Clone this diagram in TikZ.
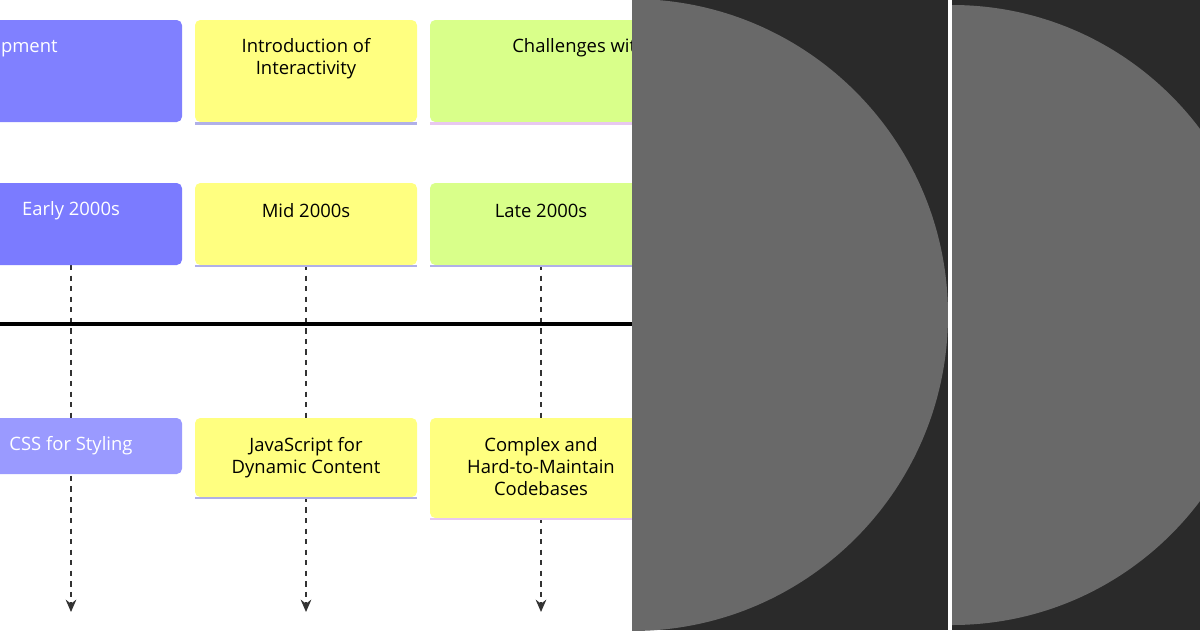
\documentclass[tikz,border=0pt]{standalone}
\usepackage{fontspec}
\setmainfont{Open Sans}
\usetikzlibrary{arrows.meta}
\definecolor{bl}{HTML}{8080FF}
\definecolor{bl2}{HTML}{7B7BFF}
\definecolor{bl3}{HTML}{9A9AFF}
\definecolor{ye}{HTML}{FFFF80}
\definecolor{gr}{HTML}{D9FF8A}
\definecolor{lav}{HTML}{B0B0E8}
\definecolor{pk}{HTML}{E8C8F0}
\definecolor{dk}{HTML}{2A2A2A}
\definecolor{cg}{HTML}{696969}
\tikzset{px/.style={x=0.02cm,y=-0.02cm},
 lab/.style={font=\fontsize{10.5}{12.5}\selectfont,align=center,inner sep=0pt},
 conn/.style={dashed,line width=1.2pt,-{Stealth[length=7pt,width=6pt]},black!80}}
\begin{document}
\begin{tikzpicture}[px]
\useasboundingbox (0,0) rectangle (1200,630);
\fill[white] (0,0) rectangle (632,630);
\begin{scope}
\clip (0,0) rectangle (632,630);
% arrows
\coordinate (a1) at (71,265); \coordinate (b1) at (71,612);
\coordinate (a2) at (306,265); \coordinate (b2) at (306,612);
\coordinate (a3) at (541,265); \coordinate (b3) at (541,612);
\draw[conn] (a1)--(b1); \draw[conn] (a2)--(b2); \draw[conn] (a3)--(b3);
\draw[line width=2.4pt] (0,324)--(632,324);
% row1
\fill[bl,rounded corners=3pt] (-40,20) rectangle (182,122);
\fill[ye,rounded corners=3pt] (195,20) rectangle (417,122);
\draw[lav,line width=1.5pt] (195,123.5)--(417,123.5);
\fill[gr,rounded corners=3pt] (430,20) rectangle (660,122);
\draw[pk,line width=1.5pt] (430,123.5)--(660,123.5);
\node[lab,white,anchor=north east] (t1) at (58,38) {Web Development};
\node[lab,anchor=north] (t2) at (306,38) {Introduction of\\Interactivity};
\node[lab,anchor=north west] (t3) at (512,38) {Challenges with jQuery};
% row2
\fill[bl2,rounded corners=3pt] (-40,183) rectangle (182,265);
\fill[ye,rounded corners=3pt] (195,183) rectangle (417,265);
\draw[lav,line width=1.5pt] (195,266)--(417,266);
\fill[gr,rounded corners=3pt] (430,183) rectangle (660,265);
\draw[lav,line width=1.5pt] (430,266)--(660,266);
\node[lab,white] (m1) at (71,211) {Early 2000s};
\node[lab] (m2) at (306,211) {Mid 2000s};
\node[lab] (m3) at (541,211) {Late 2000s};
% row3
\fill[bl3,rounded corners=3pt] (-40,418) rectangle (182,474);
\fill[ye,rounded corners=3pt] (195,418) rectangle (417,497);
\draw[lav,line width=1.5pt] (195,498)--(417,498);
\fill[ye,rounded corners=3pt] (430,418) rectangle (660,518);
\draw[pk,line width=1.5pt] (430,519)--(660,519);
\node[lab,white] (c1) at (71,446) {CSS for Styling};
\node[lab,anchor=north] (c2) at (306,437) {JavaScript for\\Dynamic Content};
\node[lab,anchor=north] (c3) at (541,437) {Complex and\\Hard-to-Maintain\\Codebases};
\end{scope}
% right panels
\fill[dk] (632,0) rectangle (948,630);
\begin{scope}\clip (632,0) rectangle (948,630);
\fill[cg] (632,315) circle (316);\end{scope}
\fill[white] (948,0) rectangle (952,630);
\fill[dk] (952,0) rectangle (1200,630);
\begin{scope}\clip (952,0) rectangle (1200,630);
\fill[cg] (952,315) circle (310);\end{scope}
\end{tikzpicture}
\end{document}
